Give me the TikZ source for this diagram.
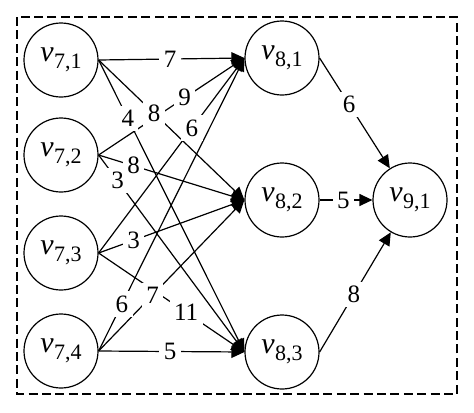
\documentclass[tikz,border=0pt]{standalone}
\usepackage{fontspec}
\setmainfont{Liberation Serif}
\usetikzlibrary{arrows.meta}
\newcommand{\vn}[2]{{\fontsize{15}{17}\selectfont\itshape v}\kern0.3pt\raisebox{-3.5pt}{\fontsize{11}{13}\selectfont #1,#2}}
\begin{document}
\begin{tikzpicture}[x=0.5pt,y=-0.5pt,
  vert/.style={circle,draw,line width=0.6pt,minimum size=37pt,inner sep=0pt},
  edge/.style={line width=0.6pt,-{Triangle[length=6.5pt,width=6pt]}},
  wt/.style={fill=white,inner sep=2.2pt,font=\fontsize{12.5}{14}\selectfont}]
\useasboundingbox (0,0) rectangle (474,412);
\draw[line width=0.6pt,dash pattern=on 4.5pt off 2.2pt] (17,17) rectangle (457,394);
\node[vert] (a1) at (61,60) {\vn{7}{1}};
\node[vert] (a2) at (61,155) {\vn{7}{2}};
\node[vert] (a3) at (61,253) {\vn{7}{3}};
\node[vert] (a4) at (61,351) {\vn{7}{4}};
\node[vert] (b1) at (282,58) {\vn{8}{1}};
\node[vert] (b2) at (282,200) {\vn{8}{2}};
\node[vert] (b3) at (282,352) {\vn{8}{3}};
\node[vert] (c1) at (410,200) {\vn{9}{1}};
% edges layer 7 -> 8 (lines first, labels on top)
\draw[edge] (a1.east) -- (b1.west);
\draw[edge] (a1.east) -- (b2.west);
\draw[edge] (a1.east) -- (b3.west);
\draw[edge] (a2.east) -- (b1.west);
\draw[edge] (a2.east) -- (b2.west);
\draw[edge] (a2.east) -- (b3.west);
\draw[edge] (a3.east) -- (b1.west);
\draw[edge] (a3.east) -- (b2.west);
\draw[edge] (a3.east) -- (b3.west);
\draw[edge] (a4.east) -- (b1.west);
\draw[edge] (a4.east) -- (b2.west);
\draw[edge] (a4.east) -- (b3.west);
\path (a1.east) -- (b1.west) node[wt,pos=0.49] (l11) {7};
\path (a1.east) -- (b2.west) node[wt,pos=0.38] (l12) {8};
\path (a1.east) -- (b3.west) node[wt,pos=0.2] (l13) {4};
\path (a2.east) -- (b1.west) node[wt,pos=0.59] (l21) {9};
\path (a2.east) -- (b2.west) node[wt,pos=0.24] (l22) {8};
\path (a2.east) -- (b3.west) node[wt,pos=0.13] (l23) {3};
\path (a3.east) -- (b1.west) node[wt,pos=0.64] (l31) {6};
\path (a3.east) -- (b2.west) node[wt,pos=0.24] (l32) {3};
\path (a3.east) -- (b3.west) node[wt,pos=0.6] (l33) {11};
\path (a4.east) -- (b1.west) node[wt,pos=0.16] (l41) {6};
\path (a4.east) -- (b2.west) node[wt,pos=0.37] (l42) {7};
\path (a4.east) -- (b3.west) node[wt,pos=0.49] (l43) {5};
% edges layer 8 -> 9
\draw[edge] (b1.east) -- (c1) node[wt,pos=0.42] (m1) {6};
\draw[edge] (b2.east) -- (c1.west) node[wt,pos=0.45] (m2) {5};
\draw[edge] (b3.east) -- (c1) node[wt,pos=0.48] (m3) {8};
\end{tikzpicture}
\end{document}
